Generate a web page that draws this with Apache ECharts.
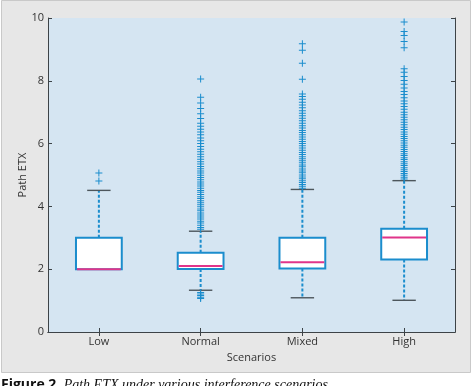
<!DOCTYPE html>
<html>
<head>
<meta charset="utf-8">
<script src="https://cdn.jsdelivr.net/npm/echarts@6/dist/echarts.min.js"></script>
<style>
html,body{margin:0;padding:0;background:#fff;}
#c{width:474px;height:386px;}
</style>
</head>
<body>
<div id="c"></div>
<script>
var categories = ['Low', 'Normal', 'Mixed', 'High'];
// [lowerWhisker, Q1, median, Q3, upperWhisker]
var boxLow    = [2.00, 2.00, 2.00, 3.00, 4.51];
var boxNormal = [1.33, 2.01, 2.10, 2.52, 3.21];
var boxMixed  = [1.09, 2.02, 2.22, 3.00, 4.54];
var boxHigh   = [1.01, 2.31, 3.01, 3.29, 4.82];

var outLow = [4.81, 5.06];
var outNormal = [1.07, 1.11, 1.16, 1.21, 1.26,
  3.27, 3.33, 3.40, 3.47, 3.53, 3.60, 3.66, 3.73, 3.79, 3.86, 3.92, 3.99, 4.05, 4.12, 4.18,
  4.25, 4.31, 4.38, 4.45, 4.51, 4.58, 4.65, 4.71, 4.78, 4.85, 4.92, 4.99, 5.06, 5.13, 5.20,
  5.27, 5.35, 5.42, 5.50, 5.58, 5.66, 5.74, 5.82, 5.91, 6.00, 6.09, 6.18, 6.28, 6.37, 6.46,
  6.55, 6.65, 6.80, 6.95, 7.12, 7.29, 7.48, 8.06];
var outMixed = [4.58, 4.64, 4.70, 4.76, 4.82, 4.88, 4.94, 5.00, 5.07, 5.13, 5.19, 5.26, 5.32,
  5.39, 5.45, 5.52, 5.58, 5.65, 5.72, 5.79, 5.86, 5.93, 6.00, 6.07, 6.14, 6.21, 6.28, 6.35,
  6.42, 6.50, 6.57, 6.65, 6.73, 6.81, 6.89, 6.97, 7.05, 7.14, 7.23, 7.32, 7.41, 7.50, 7.58,
  8.05, 8.56, 8.97, 9.18];
var outHigh = [4.87, 4.93, 4.99, 5.05, 5.11, 5.17, 5.23, 5.30, 5.36, 5.42, 5.49, 5.55, 5.62,
  5.68, 5.75, 5.81, 5.88, 5.95, 6.02, 6.09, 6.16, 6.23, 6.30, 6.37, 6.45, 6.52, 6.60, 6.68,
  6.76, 6.84, 6.92, 7.00, 7.09, 7.18, 7.27, 7.36, 7.46, 7.56, 7.66, 7.77, 7.89, 8.01, 8.14,
  8.27, 8.38, 9.05, 9.25, 9.44, 9.57, 9.87];
var yTicks = [0, 2, 4, 6, 8, 10];

var boxes = [boxLow, boxNormal, boxMixed, boxHigh];
var outliers = [outLow, outNormal, outMixed, outHigh];

var boxData = boxes.map(function (b, i) { return [i].concat(b); });
var outData = [];
outliers.forEach(function (arr, i) { arr.forEach(function (v) { outData.push([i, v]); }); });

var BLUE = '#1b8dcd';
var PINK = '#e0358a';
var CAP = '#4d565c';
var AX = '#3d4347';

function renderBox(params, api) {
  var i = api.value(0);
  var mn = api.value(1), q1 = api.value(2), md = api.value(3), q3 = api.value(4), mx = api.value(5);
  var band = api.size([1, 0])[0];
  var bw = band * 0.45, cw = band * 0.23;
  var pMin = api.coord([i, mn]), pQ1 = api.coord([i, q1]), pMd = api.coord([i, md]);
  var pQ3 = api.coord([i, q3]), pMax = api.coord([i, mx]);
  var x = pMin[0];
  var dash = { stroke: BLUE, lineWidth: 2, lineDash: [3, 2] };
  var children = [];
  children.push({ type: 'line', shape: { x1: x, y1: pQ3[1], x2: x, y2: pMax[1] }, style: dash });
  if (mn < q1) {
    children.push({ type: 'line', shape: { x1: x, y1: pQ1[1], x2: x, y2: pMin[1] }, style: dash });
    children.push({ type: 'line', shape: { x1: x - cw / 2, y1: pMin[1], x2: x + cw / 2, y2: pMin[1] }, style: { stroke: CAP, lineWidth: 1.4 } });
  }
  children.push({ type: 'line', shape: { x1: x - cw / 2, y1: pMax[1], x2: x + cw / 2, y2: pMax[1] }, style: { stroke: CAP, lineWidth: 1.4 } });
  children.push({ type: 'rect', shape: { x: x - bw / 2, y: pQ3[1], width: bw, height: pQ1[1] - pQ3[1] }, style: { fill: '#ffffff', stroke: BLUE, lineWidth: 2 } });
  children.push({ type: 'line', shape: { x1: x - bw / 2 + 1, y1: pMd[1], x2: x + bw / 2 - 1, y2: pMd[1] }, style: { stroke: PINK, lineWidth: 2 } });
  return { type: 'group', children: children };
}

var chart = echarts.init(document.getElementById('c'), null, { renderer: 'canvas' });
var font = '"Open Sans", "Noto Sans", sans-serif';
var axisCommon = {
  axisLine: { show: true, lineStyle: { color: AX, width: 1 } },
  axisTick: { show: true, inside: true, length: 4, lineStyle: { color: AX, width: 1 } },
  splitLine: { show: false }
};
chart.setOption({
  animation: false,
  backgroundColor: 'transparent',
  textStyle: { fontFamily: font },
  graphic: [
    { type: 'rect', z: -10, shape: { x: 1.5, y: 0.5, width: 469, height: 372 }, style: { fill: '#e7e7e7', stroke: '#c9c9c9', lineWidth: 1 } },
    { type: 'text', x: 23, y: 175, rotation: Math.PI / 2, style: {
      text: 'Path ETX', fontFamily: font, fontSize: 11, fill: '#333', align: 'center', verticalAlign: 'middle'
    } },
    { type: 'text', left: 1, top: 378, style: {
      text: '{b|Figure 2.} {i|Path ETX under various interference scenarios.}',
      rich: {
        b: { fontFamily: font, fontWeight: 'bold', fontSize: 14, fill: '#111' },
        i: { fontFamily: '"Liberation Serif", "DejaVu Serif", serif', fontStyle: 'italic', fontSize: 14, fill: '#111' }
      }
    } }
  ],
  grid: { left: 48, right: 19, top: 18, bottom: 54, show: true, backgroundColor: '#d5e5f2', borderWidth: 0 },
  xAxis: [
    Object.assign({
      type: 'category', data: categories, position: 'bottom',
      axisTick: { show: true, inside: true, length: 4, alignWithLabel: true, lineStyle: { color: AX } },
      axisLabel: { color: '#333', fontSize: 11, margin: 4, fontFamily: font },
      name: 'Scenarios', nameLocation: 'middle', nameGap: 18,
      nameTextStyle: { color: '#333', fontSize: 11, fontFamily: font }
    }, { axisLine: axisCommon.axisLine, splitLine: { show: false } }),
    {
      type: 'category', data: categories, position: 'top',
      axisLine: axisCommon.axisLine,
      axisTick: { show: true, inside: true, length: 4, alignWithLabel: true, lineStyle: { color: AX } },
      axisLabel: { show: false }, splitLine: { show: false }
    }
  ],
  yAxis: [
    Object.assign({
      type: 'value', min: yTicks[0], max: yTicks[yTicks.length - 1], interval: 2, position: 'left',
      axisLabel: { color: '#333', fontSize: 11, margin: 4, fontFamily: font }
    }, axisCommon),
    Object.assign({
      type: 'value', min: yTicks[0], max: yTicks[yTicks.length - 1], interval: 2, position: 'right',
      axisLabel: { show: false }
    }, axisCommon)
  ],
  series: [
    {
      type: 'custom', renderItem: renderBox, data: boxData, xAxisIndex: 0, yAxisIndex: 0,
      encode: { x: 0, y: [1, 2, 3, 4, 5] }, z: 2
    },
    {
      type: 'scatter', data: outData, xAxisIndex: 0, yAxisIndex: 0, z: 3,
      symbol: 'path://M3,0 H4 V3 H7 V4 H4 V7 H3 V4 H0 V3 H3 Z',
      symbolSize: 7, itemStyle: { color: BLUE, opacity: 1 }
    }
  ]
});
</script>
</body>
</html>
